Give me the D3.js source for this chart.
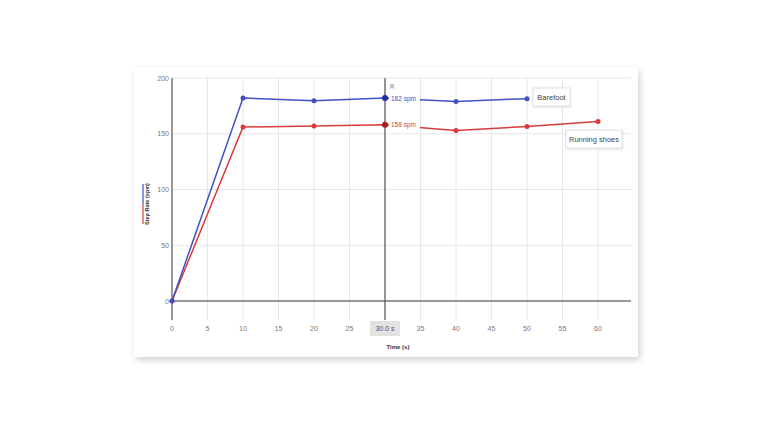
<!DOCTYPE html>
<html>
<head>
<meta charset="utf-8">
<script src="https://cdn.jsdelivr.net/npm/d3@7"></script>
<style>
  html, body { margin: 0; padding: 0; background: #fff; }
  body { width: 768px; height: 432px; overflow: hidden; font-family: "Liberation Sans", Arial, sans-serif; }
</style>
</head>
<body>
<svg id="chart" width="768" height="432"></svg>
<script>
// time in seconds, step rate in spm
const barefootTime = [0, 10, 20, 30, 40, 50];
const barefootRate = [0, 182, 179.5, 182, 179, 181.5];
const shoesTime = [0, 10, 20, 30, 40, 50, 60];
const shoesRate = [0, 156, 157, 158, 153, 156.5, 161];
const xTicks = [0, 5, 10, 15, 20, 25, 30, 35, 40, 45, 50, 55, 60];
const yTicks = [0, 50, 100, 150, 200];
const cursorTime = 30;

const svg = d3.select("#chart");
const blue = "#3f51c4";
const red = "#d83b3b";

// card with soft shadow
const defs = svg.append("defs");
const f = defs.append("filter").attr("id", "shadow")
    .attr("x", "-5%").attr("y", "-5%").attr("width", "115%").attr("height", "120%");
f.append("feDropShadow").attr("dx", 2).attr("dy", 3).attr("stdDeviation", 3)
    .attr("flood-color", "#000").attr("flood-opacity", 0.18);
const f2 = defs.append("filter").attr("id", "boxshadow")
    .attr("x", "-20%").attr("y", "-30%").attr("width", "140%").attr("height", "170%");
f2.append("feDropShadow").attr("dx", 0.5).attr("dy", 1).attr("stdDeviation", 0.8)
    .attr("flood-color", "#000").attr("flood-opacity", 0.12);

svg.append("rect")
    .attr("x", 134).attr("y", 68).attr("width", 504).attr("height", 289)
    .attr("fill", "#fff").attr("filter", "url(#shadow)");

const x = d3.scaleLinear().domain([0, 60]).range([172, 598]);
const y = d3.scaleLinear().domain([0, 200]).range([301, 78]);
const gridBottom = 320;
const gridRight = 631;

// grid
const grid = svg.append("g").attr("stroke", "#e6e6e6").attr("stroke-width", 1);
grid.selectAll("line.v")
    .data(xTicks.filter(d => d > 0))
    .join("line")
    .attr("class", "v")
    .attr("x1", d => x(d)).attr("x2", d => x(d))
    .attr("y1", y(200)).attr("y2", gridBottom);
grid.selectAll("line.h")
    .data(yTicks.filter(d => d > 0))
    .join("line")
    .attr("class", "h")
    .attr("x1", x(0)).attr("x2", gridRight)
    .attr("y1", d => y(d)).attr("y2", d => y(d));

// axes lines
svg.append("line")
    .attr("x1", x(0)).attr("x2", x(0)).attr("y1", y(200)).attr("y2", gridBottom)
    .attr("stroke", "#777").attr("stroke-width", 1.5);
svg.append("line")
    .attr("x1", x(0)).attr("x2", gridRight).attr("y1", y(0)).attr("y2", y(0))
    .attr("stroke", "#777").attr("stroke-width", 1.5);

// tick labels
svg.append("g")
    .selectAll("text")
    .data(xTicks.filter(d => d !== cursorTime))
    .join("text")
    .attr("x", d => x(d)).attr("y", 331)
    .attr("text-anchor", "middle")
    .attr("font-size", 7).attr("fill", "#777")
    .text(d => d);
svg.append("g")
    .selectAll("text")
    .data(yTicks)
    .join("text")
    .attr("x", x(0) - 3).attr("y", d => y(d) + 2.5)
    .attr("text-anchor", "end")
    .attr("font-size", 7).attr("fill", "#777")
    .text(d => d);

// axis titles
svg.append("text")
    .attr("x", 398).attr("y", 349)
    .attr("text-anchor", "middle")
    .attr("font-size", 6).attr("font-weight", "bold").attr("fill", "#333")
    .text("Time (s)");
svg.append("text")
    .attr("transform", "translate(149,204) rotate(-90)")
    .attr("text-anchor", "middle")
    .attr("font-size", 5.5).attr("font-weight", "bold").attr("fill", "#333")
    .text("Step Rate (spm)");
svg.append("line")
    .attr("x1", 143).attr("x2", 143).attr("y1", 184).attr("y2", 204)
    .attr("stroke", blue).attr("stroke-width", 1.2);
svg.append("line")
    .attr("x1", 143).attr("x2", 143).attr("y1", 204).attr("y2", 224)
    .attr("stroke", red).attr("stroke-width", 1.2);

// red drawn first so blue sits on top at the origin
const series = [
  {name: "Running shoes", time: shoesTime, rate: shoesRate, color: red, dark: "#a81f1f"},
  {name: "Barefoot", time: barefootTime, rate: barefootRate, color: blue, dark: "#1f2f99"}
];

const line = d3.line().x(d => x(d[0])).y(d => y(d[1]));

series.forEach(s => {
  const pts = s.time.map((t, i) => [t, s.rate[i]]);
  svg.append("path")
      .datum(pts)
      .attr("d", line)
      .attr("fill", "none")
      .attr("stroke", s.color)
      .attr("stroke-width", 1.5);
  svg.append("g")
      .selectAll("circle")
      .data(pts.filter(p => p[0] !== cursorTime))
      .join("circle")
      .attr("cx", d => x(d[0])).attr("cy", d => y(d[1]))
      .attr("r", 2.5)
      .attr("fill", s.color);
});

// crosshair
svg.append("line")
    .attr("x1", x(cursorTime)).attr("x2", x(cursorTime))
    .attr("y1", y(200)).attr("y2", gridBottom)
    .attr("stroke", "#555").attr("stroke-width", 1.2);

series.forEach(s => {
  const i = s.time.indexOf(cursorTime);
  const v = s.rate[i];
  const label = svg.append("text")
      .attr("x", x(cursorTime) + 6).attr("y", y(v) + 2.5)
      .attr("font-size", 6.5).attr("fill", s.color)
      .text(Math.round(v) + " spm");
  const bb = label.node().getBBox();
  svg.insert("rect", () => label.node())
      .attr("x", bb.x - 2).attr("y", bb.y).attr("width", bb.width + 6).attr("height", bb.height)
      .attr("fill", "#fff");
  svg.append("circle")
      .attr("cx", x(cursorTime)).attr("cy", y(v))
      .attr("r", 3).attr("fill", s.dark);
});

// close mark
svg.append("text")
    .attr("x", x(cursorTime) + 7).attr("y", 89.5)
    .attr("text-anchor", "middle")
    .attr("font-size", 10).attr("fill", "#888")
    .text("\u00d7");

// cursor value box on x axis
svg.append("rect")
    .attr("x", x(cursorTime) - 15).attr("y", 321).attr("width", 30).attr("height", 15)
    .attr("fill", "#e2e2e2");
svg.append("text")
    .attr("x", x(cursorTime)).attr("y", 331)
    .attr("text-anchor", "middle")
    .attr("font-size", 7).attr("fill", "#555")
    .text(cursorTime.toFixed(1) + " s");

// series labels
const legendPos = [
  {name: "Barefoot", x: 533, y: 88, w: 37},
  {name: "Running shoes", x: 566, y: 130, w: 56}
];
legendPos.forEach(l => {
  svg.append("rect")
      .attr("x", l.x).attr("y", l.y).attr("width", l.w).attr("height", 18)
      .attr("fill", "#fff").attr("stroke", "#d8d8d8").attr("stroke-width", 0.8)
      .attr("filter", "url(#boxshadow)");
  svg.append("text")
      .attr("x", l.x + l.w / 2).attr("y", l.y + 12)
      .attr("text-anchor", "middle")
      .attr("font-size", 7.5).attr("fill", "#444")
      .text(l.name);
});
</script>
</body>
</html>
